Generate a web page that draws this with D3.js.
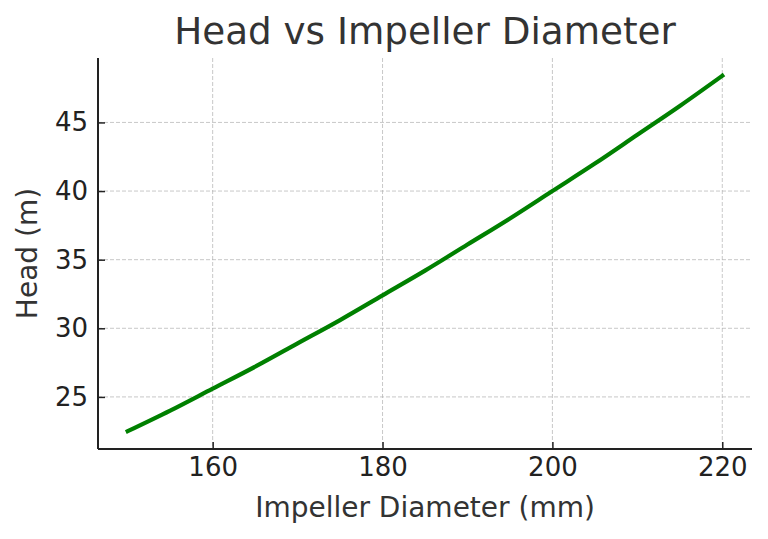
<!DOCTYPE html>
<html>
<head>
<meta charset="utf-8">
<script src="https://cdn.jsdelivr.net/npm/d3@7"></script>
<style>
  html, body { margin: 0; padding: 0; background: #fff; }
  svg { display: block; font-family: "DejaVu Sans", sans-serif; }
</style>
</head>
<body>
<svg id="chart" width="768" height="539"></svg>
<script>
const diameters = [150, 155, 160, 165, 170, 175, 180, 185, 190, 195, 200, 205, 210, 215, 220];
const heads = [22.5, 24.0, 25.6, 27.2, 28.9, 30.6, 32.4, 34.2, 36.1, 38.0, 40.0, 42.0, 44.1, 46.2, 48.4];
const xTicks = [160, 180, 200, 220];
const yTicks = [25, 30, 35, 40, 45];
const title = "Head vs Impeller Diameter";
const xLabel = "Impeller Diameter (mm)";
const yLabel = "Head (m)";

const svg = d3.select("#chart");
const margin = { left: 98, right: 752, top: 58, bottom: 449 };

const xPad = (d3.max(diameters) - d3.min(diameters)) * 0.05;
const yPad = (d3.max(heads) - d3.min(heads)) * 0.05;
const x = d3.scaleLinear()
  .domain([d3.min(diameters) - xPad, d3.max(diameters) + xPad])
  .range([margin.left, margin.right]);
const y = d3.scaleLinear()
  .domain([d3.min(heads) - yPad, d3.max(heads) + yPad])
  .range([margin.bottom, margin.top]);

// grid
const grid = svg.append("g");
grid.selectAll("line.vg").data(xTicks).join("line")
  .attr("x1", d => x(d)).attr("x2", d => x(d))
  .attr("y1", margin.top).attr("y2", margin.bottom)
  .attr("stroke", "#b0b0b0").attr("stroke-opacity", 0.7)
  .attr("stroke-width", 1).attr("stroke-dasharray", "4,2");
grid.selectAll("line.hg").data(yTicks).join("line")
  .attr("x1", margin.left).attr("x2", margin.right)
  .attr("y1", d => y(d)).attr("y2", d => y(d))
  .attr("stroke", "#b0b0b0").attr("stroke-opacity", 0.7)
  .attr("stroke-width", 1).attr("stroke-dasharray", "4,2");

// line
const line = d3.line().x((d, i) => x(diameters[i])).y(d => y(d)).curve(d3.curveMonotoneX);
svg.append("path").datum(heads)
  .attr("d", line)
  .attr("fill", "none")
  .attr("stroke", "#008000")
  .attr("stroke-width", 4.2)
  .attr("stroke-linecap", "square");

// axes
const xAxis = d3.axisBottom(x).tickValues(xTicks).tickSizeInner(-7).tickSizeOuter(0).tickPadding(9);
const yAxis = d3.axisLeft(y).tickValues(yTicks).tickSizeInner(-7).tickSizeOuter(0).tickPadding(10);

const gx = svg.append("g").attr("transform", `translate(0,${margin.bottom})`).call(xAxis);
const gy = svg.append("g").attr("transform", `translate(${margin.left},0)`).call(yAxis);
[gx, gy].forEach(g => {
  g.select(".domain").attr("stroke", "#222").attr("stroke-width", 2);
  g.selectAll(".tick line").attr("stroke", "#222").attr("stroke-width", 1.5);
  g.selectAll(".tick text").attr("fill", "#222").style("font-size", "26px")
    .style("font-family", "'DejaVu Sans', sans-serif");
});
gx.select(".domain").attr("d", `M${margin.left},0H${margin.right}`);
gy.select(".domain").attr("d", `M0,${margin.bottom}V${margin.top}`);

// title and labels
svg.append("text").attr("x", (margin.left + margin.right) / 2).attr("y", 44)
  .attr("text-anchor", "middle").attr("fill", "#333").style("font-size", "37.3px").text(title);
svg.append("text").attr("x", (margin.left + margin.right) / 2).attr("y", 517)
  .attr("text-anchor", "middle").attr("fill", "#333").style("font-size", "28px").text(xLabel);
svg.append("text").attr("transform", `translate(37,${(margin.top + margin.bottom) / 2}) rotate(-90)`)
  .attr("text-anchor", "middle").attr("fill", "#333").style("font-size", "28px").text(yLabel);
</script>
</body>
</html>
